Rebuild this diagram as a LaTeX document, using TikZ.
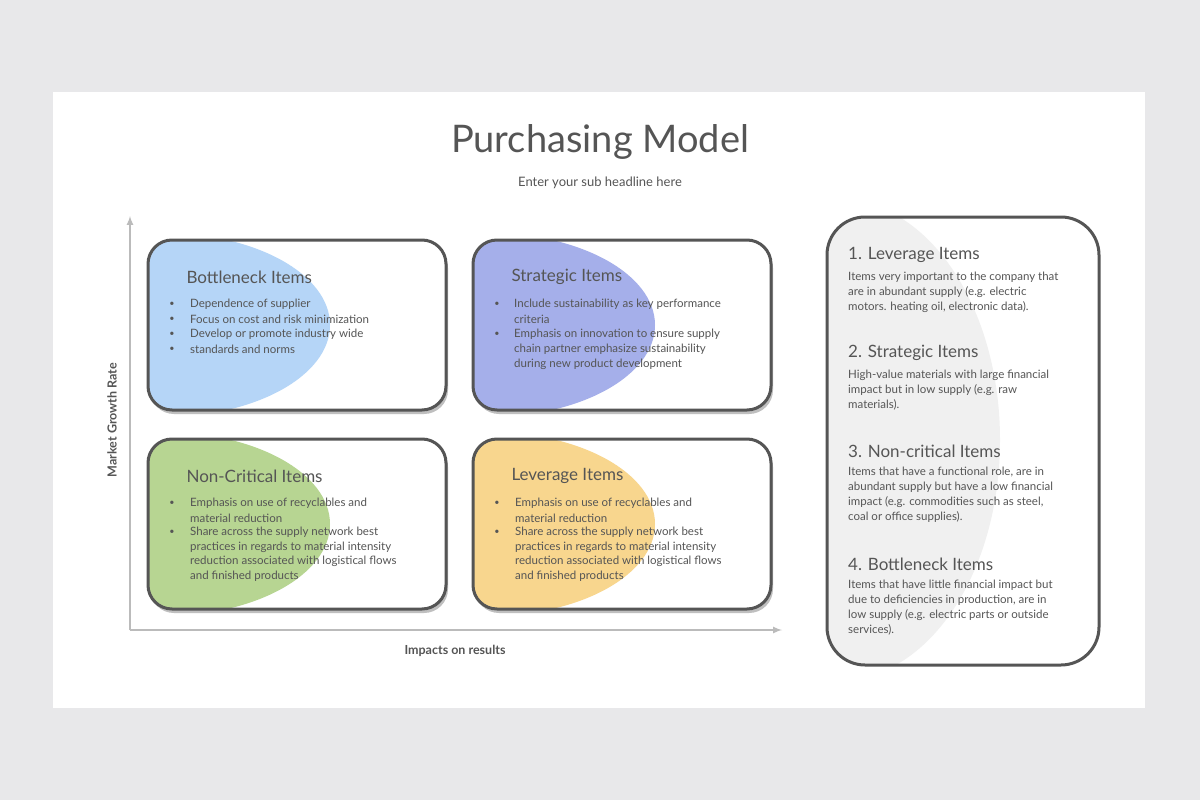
\documentclass[tikz,border=0pt]{standalone}
\usepackage{fontspec}
\setmainfont{Lato}
\usetikzlibrary{shadows}
\definecolor{bg}{HTML}{E8E8EA}
\definecolor{bord}{HTML}{555555}
\definecolor{txt}{HTML}{555555}
\definecolor{cblue}{HTML}{B5D5F7}
\definecolor{cpurp}{HTML}{A5AFEA}
\definecolor{cgreen}{HTML}{B7D592}
\definecolor{corange}{HTML}{F8D68E}
\definecolor{axisc}{HTML}{BBBBBB}
\tikzset{
 quad/.style={draw=bord,line width=3pt,rounded corners=24pt},
 qtitle/.style={anchor=west,font=\fontsize{17}{17}\selectfont,text=txt},
 btext/.style={anchor=west,font=\fontsize{11.5}{11.5}\selectfont,text=txt,inner sep=0},
 bul/.style={anchor=center,font=\fontsize{9}{9}\selectfont,text=txt,inner sep=0},
 rhead/.style={anchor=west,font=\fontsize{17}{17}\selectfont,text=txt,inner sep=0},
 rtext/.style={anchor=west,font=\fontsize{11.5}{11.5}\selectfont,text=txt,inner sep=0},
}
\begin{document}
\begin{tikzpicture}[x=1pt,y=-1pt]
\useasboundingbox (0,0) rectangle (1200,800);
\fill[bg] (0,0) rectangle (1200,800);
\fill[white] (53,92) rectangle (1145,708);
\node (title) at (600,142) {\fontsize{38}{38}\selectfont\color{txt}Purchasing Model};
\node (sub) at (600,183) {\fontsize{13}{13}\selectfont\color{txt}Enter your sub headline here};
% axes
\coordinate (o) at (130,630);
\coordinate (ytop) at (130,216);
\coordinate (xend) at (782,630);
\draw[axisc,line width=2pt,-latex] (o) -- (ytop);
\draw[axisc,line width=2pt,-latex] (o) -- (xend);
\node[rotate=90,font=\fontsize{12.5}{12.5}\selectfont\bfseries,text=txt] (ylab) at (112,420) {Market Growth Rate};
\node[font=\fontsize{12.5}{12.5}\selectfont\bfseries,text=txt] (xlab) at (455,651) {Impacts on results};
% quadrants
\foreach \x/\y/\c in {148/240/cblue,473/240/cpurp,148/439/cgreen,473/439/corange}{
 \fill[black!25,rounded corners=24pt] (\x+2,\y+4) rectangle (\x+300,\y+174);
 \fill[white,rounded corners=24pt] (\x,\y) rectangle (\x+298,\y+170);
 \begin{scope}
 \clip[rounded corners=24pt] (\x,\y) rectangle (\x+298,\y+170);
 \fill[\c] (\x+15,\y+85) ellipse [x radius=167, y radius=92];
 \end{scope}
 \draw[quad] (\x,\y) rectangle (\x+298,\y+170);
}
% TL
\node[qtitle] (t1) at (183,277) {Bottleneck Items};
\foreach \i/\t in {0/Dependence of supplier,1/Focus on cost and risk minimization,2/Develop or promote industry wide}{
 \node[bul] at (172,304+15*\i) {•}; \node[btext] at (190,304+15*\i) {\t};}
\node[bul] at (172,349) {•}; \node[btext] at (190,349) {standards and norms};
% TR
\node[qtitle] (t2) at (508,277) {Strategic Items};
\node[bul] at (497,304) {•}; \node[btext] at (514,304) {Include sustainability as key performance};
\node[btext] at (514,319) {criteria};
\node[bul] at (497,334) {•}; \node[btext] at (514,334) {Emphasis on innovation to ensure supply};
\node[btext] at (514,349) {chain partner emphasize sustainability};
\node[btext] at (514,364) {during new product development};
% BL and BR
\foreach \x/\tt in {148/Non-Critical Items,473/Leverage Items}{
 \node[qtitle] at (\x+35,476) {\tt};
 \node[bul] at (\x+24,503) {•}; \node[btext] at (\x+42,503) {Emphasis on use of recyclables and};
 \node[btext] at (\x+42,518) {material reduction};
 \node[bul] at (\x+24,532) {•}; \node[btext] at (\x+42,532) {Share across the supply network best};
 \node[btext] at (\x+42,547) {practices in regards to material intensity};
 \node[btext] at (\x+42,561) {reduction associated with logistical flows};
 \node[btext] at (\x+42,576) {and finished products};
}
% right panel
\begin{scope}
\clip[rounded corners=38pt] (827,217) rectangle (1099,665);
\fill[white] (827,217) rectangle (1099,665);
\fill[black!6] (840,440) ellipse [x radius=160, y radius=240];
\end{scope}
\draw[quad,rounded corners=38pt] (827,217) rectangle (1099,665);
\node[rhead] (r1) at (848,255) {1. Leverage Items};
\node[rtext] at (848,277) {Items very important to the company that};
\node[rtext] at (848,292) {are in abundant supply (e.g. electric};
\node[rtext] at (848,307) {motors. heating oil, electronic data).};
\node[rhead] (r2) at (848,353) {2. Strategic Items};
\node[rtext] at (848,375) {High-value materials with large financial};
\node[rtext] at (848,390) {impact but in low supply (e.g. raw};
\node[rtext] at (848,405) {materials).};
\node[rhead] (r3) at (848,451) {3. Non-critical Items};
\node[rtext] at (848,472) {Items that have a functional role, are in};
\node[rtext] at (848,487) {abundant supply but have a low financial};
\node[rtext] at (848,502) {impact (e.g. commodities such as steel,};
\node[rtext] at (848,517) {coal or office supplies).};
\node[rhead] (r4) at (848,564) {4. Bottleneck Items};
\node[rtext] at (848,585) {Items that have little financial impact but};
\node[rtext] at (848,600) {due to deficiencies in production, are in};
\node[rtext] at (848,615) {low supply (e.g. electric parts or outside};
\node[rtext] at (848,630) {services).};
\end{tikzpicture}
\end{document}
